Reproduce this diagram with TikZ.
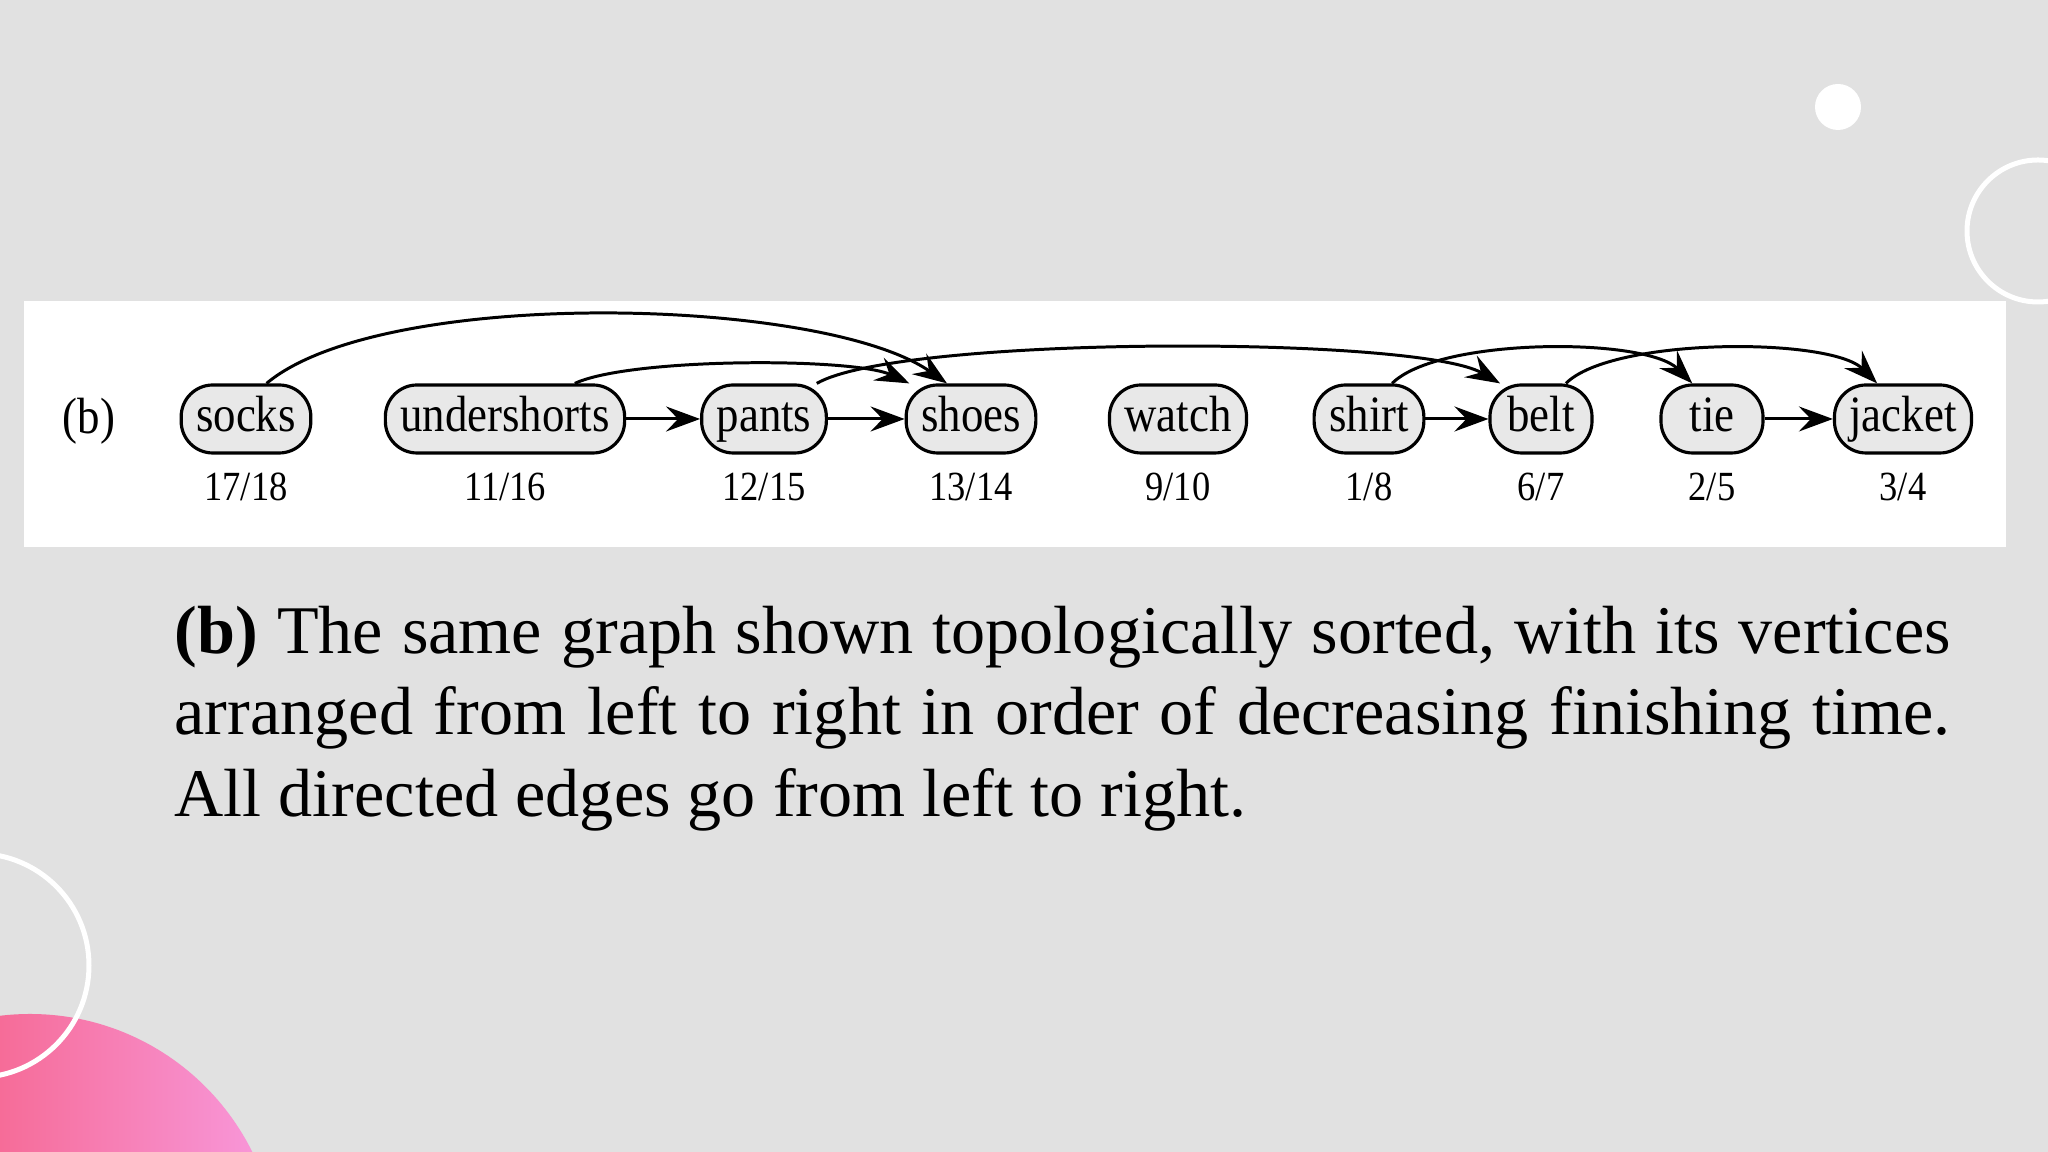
\documentclass[tikz,border=0pt]{standalone}
\usepackage{fontspec}
\setmainfont{Liberation Serif}
\newfontfamily\figfont[FakeStretch=0.88]{Liberation Serif}
\usepackage{tikz}
\usetikzlibrary{arrows.meta}
\usetikzlibrary{positioning}

\definecolor{slidebg}{RGB}{225,225,225}
\definecolor{pinkleft}{RGB}{246,108,152}
\definecolor{pinkright}{RGB}{248,154,222}

\begin{document}
\begin{tikzpicture}[
  vertex/.style={draw, line width=0.9pt, fill=gray!18, rounded corners=9pt, minimum height=0.68cm, minimum width=1.02cm, inner xsep=0.15cm, inner ysep=0pt, text height=0.9em, text depth=0.16em, font=\figfont\fontsize{14.5}{16}\selectfont},
  time/.style={inner sep=0pt, font=\figfont\fontsize{11.8}{13}\selectfont},
  edge/.style={line width=0.85pt, arrows={-Stealth[length=0.34cm, width=0.25cm, inset=0.12cm]}}
]
  \useasboundingbox (0,0) rectangle (20.48,11.52);
  \fill[slidebg] (0,0) rectangle (20.48,11.52);
  % slide decoration
  \begin{scope}
    \clip (0.30,-1.10) circle (2.48);
    \shade[left color=pinkleft, right color=pinkright] (0,-1.1) rectangle (2.8,1.4);
  \end{scope}
  \draw[white, line width=0.05cm] (-0.23,1.865) circle (1.12);
  \draw[white, line width=0.05cm] (20.38,9.21) circle (0.71);
  \fill[white] (18.38,10.45) circle (0.23);

  % figure panel
  \fill[white] (0.235,6.05) rectangle (20.06,8.51);
  \node[font=\figfont\fontsize{14.5}{16}\selectfont] (tag) at (0.89,7.31) {(b)};

  \node[vertex] (socks) at (2.46,7.33) {socks};
  \node[vertex] (undershorts) at (5.05,7.33) {undershorts};
  \node[vertex] (pants) at (7.64,7.33) {pants};
  \node[vertex] (shoes) at (9.71,7.33) {shoes};
  \node[vertex] (watch) at (11.78,7.33) {watch};
  \node[vertex] (shirt) at (13.69,7.33) {shirt};
  \node[vertex] (belt) at (15.41,7.33) {belt};
  \node[vertex] (tie) at (17.12,7.33) {tie};
  \node[vertex] (jacket) at (19.03,7.33) {jacket};

  \node[time, below=0.18cm of socks] (socks-t) {17/18};
  \node[time, below=0.18cm of undershorts] (undershorts-t) {11/16};
  \node[time, below=0.18cm of pants] (pants-t) {12/15};
  \node[time, below=0.18cm of shoes] (shoes-t) {13/14};
  \node[time, below=0.18cm of watch] (watch-t) {9/10};
  \node[time, below=0.18cm of shirt] (shirt-t) {1/8};
  \node[time, below=0.18cm of belt] (belt-t) {6/7};
  \node[time, below=0.18cm of tie] (tie-t) {2/5};
  \node[time, below=0.18cm of jacket] (jacket-t) {3/4};

  \draw[edge] (undershorts) -- (pants);
  \draw[edge] (pants) -- (shoes);
  \draw[edge] (shirt) -- (belt);
  \draw[edge] (tie) -- (jacket);
  \draw[edge] (socks.60) to[out=40,in=145,looseness=0.57] (shoes.124);
  \draw[edge] (undershorts.27) to[out=25,in=155,looseness=0.47] (shoes.150);
  \draw[edge] (pants.34) to[out=30,in=150,looseness=0.36] (belt.139);
  \draw[edge] (shirt.57) to[out=45,in=135,looseness=0.56] (tie.119);
  \draw[edge] (belt.55) to[out=45,in=135,looseness=0.54] (jacket.126);

  % caption
  \node[anchor=base west, inner sep=0pt, text width=17.76cm, align=justify, font=\fontsize{19.4}{23.05}\selectfont] (caption) at (1.74,4.98)
    {\textbf{(b)} The same graph shown topologically sorted, with its vertices arranged from left to right in order of decreasing finishing time. All directed edges go from left to right.};
\end{tikzpicture}
\end{document}
